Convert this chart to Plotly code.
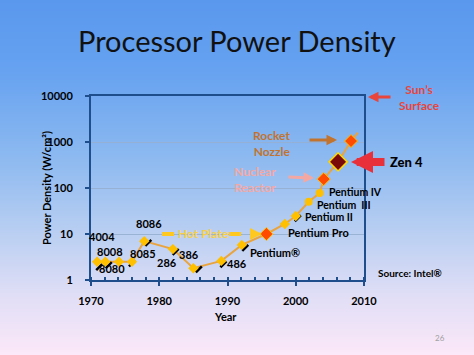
import base64, struct, zlib
import plotly.graph_objects as go

# ---------------- data ----------------
chips = ["4004", "8008", "8080", "8085", "8086", "286", "386", "486", "Pentium®",
         "Pentium Pro", "", "Pentium II", "Pentium  III", "Pentium IV"]
chip_years = [1970.9, 1972.1, 1974.1, 1976.0, 1977.8, 1982.0, 1985.0, 1989.1, 1992.1,
              1995.7, 1998.4, 2000.0, 2001.9, 2003.5]
chip_density = [2.5, 2.5, 2.5, 2.5, 7.0, 4.7, 1.8, 2.6, 5.8, 10, 16.5, 24.6, 50, 78]

ref_names = ["Hot Plate", "Nuclear Reactor", "Rocket Nozzle"]
ref_years = [1995.7, 2004.1, 2008.1]
ref_density = [10, 156, 1050]

zen_year = [2006.2]
zen_density = [370]

trend_years = [1970.9, 1972.1, 1974.1, 1976.0, 1977.8, 1982.0, 1985.0, 1989.1, 1992.1,
               1995.7, 1998.4, 2000.0, 2001.9, 2003.5, 2004.1, 2006.2, 2008.1, 2009.1]
trend_density = [2.5, 2.5, 2.5, 2.5, 7.0, 4.7, 1.8, 2.6, 5.8,
                 10, 16.5, 24.6, 50, 78, 156, 370, 1050, 1600]

intel_years = [1971.2, 1972.6, 1976.0, 1978.4, 1982.4, 1985.8, 1989.4, 1992.6, 2000.3]
intel_density = [1.9, 2.1, 2.3, 6.4, 4.1, 1.7, 2.2, 5.0, 22]

x_ticks = [1970, 1980, 1990, 2000, 2010]
y_ticks = [1, 10, 100, 1000, 10000]
y_tick_text = ["1", "10", "100", "1000", "10000"]

# ---------------- layout helpers ----------------
W, H = 474, 355
L, R, T, B = 91, 364, 96, 280


def PX(x):
    return (x - L) / (R - L)


def PY(y):
    return (B - y) / (B - T)


def gradient_png(h, stops):
    rows = b""
    for y in range(h):
        for i in range(len(stops) - 1):
            y0, c0 = stops[i]
            y1, c1 = stops[i + 1]
            if y0 <= y <= y1:
                t = (y - y0) / (y1 - y0) if y1 > y0 else 0
                c = [int(round(c0[k] + (c1[k] - c0[k]) * t)) for k in range(3)]
                break
        rows += b"\x00" + bytes(c)
    def chunk(tag, data):
        return struct.pack(">I", len(data)) + tag + data + struct.pack(">I", zlib.crc32(tag + data) & 0xffffffff)
    png = b"\x89PNG\r\n\x1a\n"
    png += chunk(b"IHDR", struct.pack(">IIBBBBB", 1, h, 8, 2, 0, 0, 0))
    png += chunk(b"IDAT", zlib.compress(rows))
    png += chunk(b"IEND", b"")
    return "data:image/png;base64," + base64.b64encode(png).decode()


bg = gradient_png(H, [(0, (90, 152, 238)), (70, (102, 162, 240)), (160, (142, 186, 240)),
                      (240, (190, 209, 242)), (295, (224, 222, 246)), (355, (252, 232, 248))])

FONT = "Lato"
fig = go.Figure()

fig.add_trace(go.Scatter(x=trend_years, y=trend_density, mode="lines",
                         line=dict(color="#E9A440", width=2), hoverinfo="skip"))
fig.add_trace(go.Scatter(x=intel_years, y=intel_density, mode="markers",
                         marker=dict(symbol="line-ne", size=6, line=dict(color="black", width=2.5))))
sym = ["diamond"] * 12 + ["circle", "circle"]
fig.add_trace(go.Scatter(x=chip_years, y=chip_density, mode="markers",
                         marker=dict(symbol=sym, size=8, color="#FFC000")))
fig.add_trace(go.Scatter(x=ref_years, y=ref_density, mode="markers",
                         marker=dict(symbol="diamond", size=10, color="#FF4A00",
                                     line=dict(color="#FFC000", width=1))))
fig.add_trace(go.Scatter(x=zen_year, y=zen_density, mode="markers",
                         marker=dict(symbol="diamond", size=14, color="#7A0A0A",
                                     line=dict(color="#FFD700", width=1.5))))

ann = []


def text(x, y, s, size=11, color="black", weight="bold", **kw):
    ann.append(dict(x=PX(x), y=PY(y), xref="paper", yref="paper", text=s, showarrow=False,
                    xanchor="center", yanchor="middle",
                    font=dict(family=FONT, size=size, color=color, weight=weight), **kw))


def arrow(x0, y0, x1, y1, color, width, size=1.0, head=2):
    ann.append(dict(x=PX(x1), y=PY(y1), xref="paper", yref="paper", ax=x0 - x1, ay=y0 - y1,
                    text="", showarrow=True, arrowhead=head, arrowsize=size, arrowwidth=width,
                    arrowcolor=color))


# title and axis titles
text(237, 41, "Processor Power Density", size=29, color="#111111", weight="normal")
text(46, 188, "Power Density (W/cm²)", size=11, textangle=-90)
text(225, 316, "Year", size=11)
text(410, 273, "Source: Intel®", size=10)
text(440, 338, "26", size=8, color="#A0A0A0", weight="normal")

# chip labels
label_pos = {"4004": (102, 236), "8008": (110, 251), "8080": (112, 268), "8085": (143, 253),
             "8086": (149, 223), "286": (167, 262), "386": (189, 254), "486": (237, 263),
             "Pentium®": (275, 252), "Pentium Pro": (318, 232), "Pentium II": (329, 217),
             "Pentium  III": (344, 204.5), "Pentium IV": (355, 192)}
for name in chips:
    if name in label_pos:
        px, py = label_pos[name]
        sz = 10.5 if name.startswith("Pentium") and name not in ("Pentium®", "Pentium Pro") else 11
        text(px, py, name.replace("  ", "&nbsp;&nbsp;"), size=sz)

# reference annotations
text(419, 97, "Sun’s<br>Surface", size=12, color="#E8453C")
arrow(392, 97, 368, 97, "#E8453C", 3, size=0.7)
text(272, 143, "Rocket<br>Nozzle", size=12, color="#C2742F", align="right")
arrow(308, 140, 337, 140, "#C2742F", 3, size=0.7)
text(255, 179, "Nuclear<br>Reactor", size=12, color="#F4A8A4")
arrow(287, 177, 314, 178, "#F4A8A4", 3, size=0.7)
text(406, 162, "Zen 4", size=13, weight=900)
arrow(386, 162, 351, 162, "#E8303A", 8, size=0.55)

# hot plate
for xa, xb in [(162, 176), (229, 252)]:
    fig.add_shape(type="line", xref="paper", yref="paper", x0=PX(xa), x1=PX(xb), y0=PY(234), y1=PY(234),
                  line=dict(color="#FFC820", width=4, dash="dash"), layer="above")
text(203, 233, "Hot Plate", size=12, color="#F7CF4A")
arrow(250, 234, 262, 234, "#FFC820", 4, size=0.6)

fig.update_layout(
    width=W, height=H,
    margin=dict(l=L, r=W - R, t=T, b=H - B, pad=0),
    paper_bgcolor="#8fb7ee", plot_bgcolor="rgba(0,0,0,0)",
    showlegend=False, annotations=ann,
    images=[dict(source=bg, xref="paper", yref="paper", x=PX(0), y=PY(0),
                 sizex=W / (R - L), sizey=H / (B - T), sizing="stretch", layer="below",
                 xanchor="left", yanchor="top")],
    xaxis=dict(range=[1970, 2010], tickvals=x_ticks, showgrid=False, zeroline=False,
               showline=True, linecolor="#1F4E8C", linewidth=2, mirror=True,
               ticks="outside", ticklen=4, tickwidth=2, tickcolor="#1F4E8C",
               minor=dict(dtick=2, ticks="inside", ticklen=3, tickwidth=1.5, tickcolor="#1F4E8C"),
               tickfont=dict(family=FONT, size=11, color="black", weight="bold"),
               ticklabelstandoff=6),
    yaxis=dict(type="log", range=[0, 4], tickvals=y_ticks, ticktext=y_tick_text,
               showgrid=True, gridcolor="rgba(150,175,210,0.9)", gridwidth=1, zeroline=False,
               showline=True, linecolor="#1F4E8C", linewidth=2, mirror=True,
               ticks="outside", ticklen=4, tickwidth=1.5, tickcolor="#1F4E8C",
               tickfont=dict(family=FONT, size=11, color="black", weight="bold"),
               ticklabelstandoff=10),
)

fig.write_html("out.html", config={"displayModeBar": False},
               post_script="document.body.style.margin='0px';document.body.style.overflow='hidden';")
